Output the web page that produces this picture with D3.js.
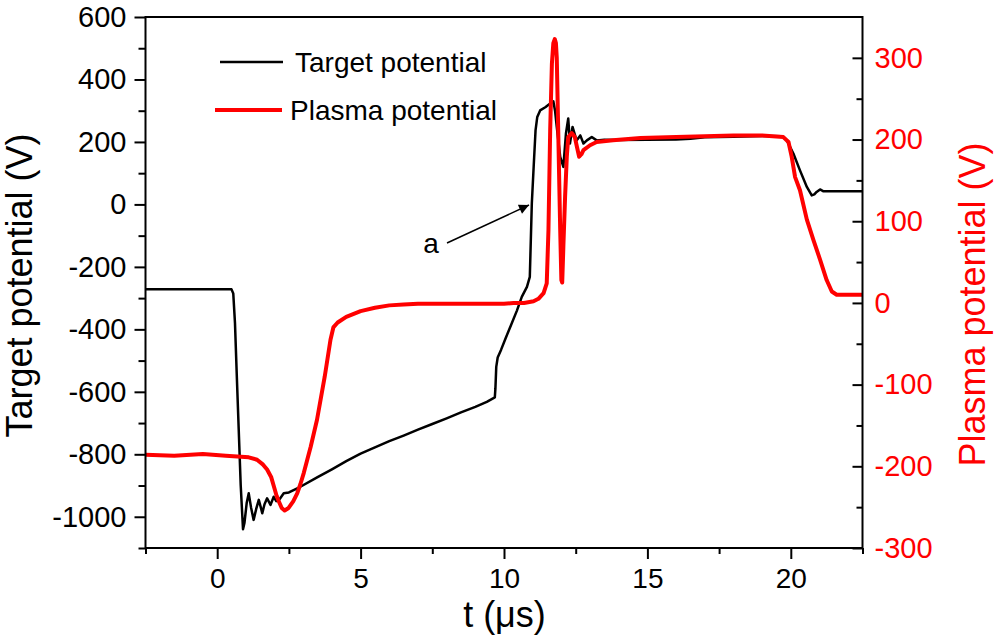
<!DOCTYPE html>
<html>
<head>
<meta charset="utf-8">
<script src="https://cdn.jsdelivr.net/npm/d3@7/dist/d3.min.js"></script>
<style>
  html, body { margin: 0; padding: 0; background: #fff; }
  svg { display: block; font-family: "Liberation Sans", Arial, sans-serif; }
</style>
</head>
<body>
<svg id="chart" width="997" height="639"></svg>
<script>
// ---- Data ----
const targetT = [-2.5, 0.5, 0.56, 0.62, 0.68, 0.75, 0.82, 0.9, 0.95, 1.03, 1.1, 1.18, 1.27, 1.36, 1.45, 1.52, 1.57, 1.65, 1.74, 1.86, 1.97, 2.06, 2.15, 2.32, 2.5, 2.9, 3.5, 4.0, 4.5, 5.0, 5.5, 6.0, 6.5, 7.0, 7.5, 8.0, 8.5, 9.0, 9.4, 9.68, 9.7, 9.73, 9.78, 9.9, 10.05, 10.25, 10.45, 10.62, 10.8, 10.9, 10.97, 11.04, 11.1, 11.16, 11.26, 11.44, 11.61, 11.72, 11.78, 11.84, 11.96, 12.07, 12.16, 12.24, 12.3, 12.39, 12.53, 12.66, 12.77, 12.89, 13.06, 13.23, 13.5, 14, 15, 16, 16.5, 17, 18, 19, 19.7, 19.86, 20.09, 20.32, 20.56, 20.73, 20.82, 20.9, 21.02, 21.14, 21.3, 22.5];
const targetV = [-272, -272, -285, -380, -540, -720, -900, -1040, -1020, -955, -925, -970, -1010, -975, -946, -970, -989, -960, -941, -962, -936, -950, -947, -925, -922, -904, -873, -848, -822, -798, -778, -758, -740, -721, -703, -685, -666, -648, -632, -618, -590, -520, -490, -465, -430, -385, -340, -296, -264, -232, 3, 131, 237, 280, 301, 311, 323, 330, 300, 248, 152, 120, 227, 275, 195, 248, 205, 221, 195, 205, 216, 205, 207, 206, 207, 208, 210, 215, 217, 219, 218, 205, 163, 109, 56, 29, 32, 40, 48, 42, 42, 42];

const plasmaT = [-2.5, -1.5, -0.5, 0.3, 0.7, 1.1, 1.39, 1.6, 1.74, 1.88, 1.98, 2.07, 2.15, 2.25, 2.35, 2.49, 2.65, 2.79, 2.9, 3.02, 3.14, 3.26, 3.48, 3.75, 3.95, 4.05, 4.2, 4.5, 5.0, 5.5, 6.0, 6.5, 7.0, 8.0, 9.0, 9.5, 10.0, 10.33, 10.7, 11.03, 11.2, 11.38, 11.49, 11.55, 11.61, 11.67, 11.72, 11.77, 11.81, 11.84, 11.89, 11.96, 12.0, 12.03, 12.07, 12.13, 12.19, 12.24, 12.36, 12.47, 12.55, 12.62, 12.7, 12.77, 13.0, 13.23, 13.8, 14.76, 16, 17, 18, 19, 19.74, 19.92, 20.03, 20.15, 20.32, 20.56, 20.79, 21.02, 21.25, 21.43, 21.6, 22.0, 22.5];
const plasmaV = [-186, -187, -185, -187, -188, -189, -192, -198, -204, -213, -225, -236, -243, -251, -254, -251, -243, -233, -222, -208, -192, -176, -143, -90, -45, -30, -24, -17, -10, -6, -3, -2, -1, -1, -1, -1, -1, 0, 0, 2, 5, 12, 24, 89, 211, 293, 318, 323, 318, 300, 212, 89, 28, 25, 69, 130, 179, 203, 208, 203, 190, 179, 182, 187, 193, 197, 199, 202, 203, 204, 205, 205, 203, 197, 179, 154, 138, 102, 77, 53, 28, 14, 10, 10, 10];

const xDomain = [-2.5, 22.5];
const yLeftDomain = [-1100, 600];
const yRightDomain = [-300, 350];
const xMajorTicks = [0, 5, 10, 15, 20];
const xMinorTicks = [-2.5, 2.5, 7.5, 12.5, 17.5, 22.5];
const yLeftMajorTicks = [-1000, -800, -600, -400, -200, 0, 200, 400, 600];
const yLeftMinorTicks = [-1100, -900, -700, -500, -300, -100, 100, 300, 500];
const yRightMajorTicks = [-300, -200, -100, 0, 100, 200, 300];
const yRightMinorTicks = [-250, -150, -50, 50, 150, 250];
const legendLabels = ["Target potential", "Plasma potential"];
const seriesColors = ["#000000", "#ff0000"];

// ---- Layout ----
const L = 145.5, R = 862.5, T = 17, B = 548;
const svg = d3.select("#chart");

const x = d3.scaleLinear().domain(xDomain).range([L, R]);
const yL = d3.scaleLinear().domain(yLeftDomain).range([B, T]);
const yR = d3.scaleLinear().domain(yRightDomain).range([B, T]);

// ---- Series ----
const targetData = targetT.map((t, i) => [t, targetV[i]]);
const plasmaData = plasmaT.map((t, i) => [t, plasmaV[i]]);

svg.append("path")
  .datum(targetData)
  .attr("fill", "none")
  .attr("stroke", seriesColors[0])
  .attr("stroke-width", 2.5)
  .attr("stroke-linejoin", "round")
  .attr("d", d3.line().x(d => x(d[0])).y(d => yL(d[1])));

svg.append("path")
  .datum(plasmaData)
  .attr("fill", "none")
  .attr("stroke", seriesColors[1])
  .attr("stroke-width", 4)
  .attr("stroke-linejoin", "round")
  .attr("d", d3.line().x(d => x(d[0])).y(d => yR(d[1])));

// ---- Axes ----
function styleAxis(g, color) {
  g.select(".domain").remove();
  g.selectAll(".tick line").attr("stroke", "#000").attr("stroke-width", 2);
  g.selectAll(".tick text").attr("fill", color).attr("font-family", "Liberation Sans, Arial, sans-serif");
}

// bottom
const gxMinor = svg.append("g").attr("transform", `translate(0,${B})`)
  .call(d3.axisBottom(x).tickValues(xMinorTicks).tickSize(6).tickFormat(""));
styleAxis(gxMinor, "#000");
const gx = svg.append("g").attr("transform", `translate(0,${B})`)
  .call(d3.axisBottom(x).tickValues(xMajorTicks).tickSize(11).tickPadding(9).tickFormat(d3.format("d")));
styleAxis(gx, "#000");
gx.selectAll(".tick text").attr("font-size", 28);

// left
const gyMinor = svg.append("g").attr("transform", `translate(${L},0)`)
  .call(d3.axisLeft(yL).tickValues(yLeftMinorTicks).tickSize(7).tickFormat(""));
styleAxis(gyMinor, "#000");
const gy = svg.append("g").attr("transform", `translate(${L},0)`)
  .call(d3.axisLeft(yL).tickValues(yLeftMajorTicks).tickSize(11).tickPadding(8).tickFormat(d => String(d)));
styleAxis(gy, "#000");
gy.selectAll(".tick text").attr("font-size", 29);

// right (ticks inward)
const gyrMinor = svg.append("g").attr("transform", `translate(${R},0)`)
  .call(d3.axisRight(yR).tickValues(yRightMinorTicks).tickSizeInner(-6).tickSizeOuter(0).tickFormat(""));
styleAxis(gyrMinor, "#ff0000");
const gyr = svg.append("g").attr("transform", `translate(${R},0)`)
  .call(d3.axisRight(yR).tickValues(yRightMajorTicks).tickSizeInner(-10).tickSizeOuter(0).tickPadding(12).tickFormat(d => String(d)));
styleAxis(gyr, "#ff0000");
gyr.selectAll(".tick text").attr("font-size", 29);

// frame
svg.append("rect")
  .attr("x", L).attr("y", T).attr("width", R - L).attr("height", B - T)
  .attr("fill", "none").attr("stroke", "#000").attr("stroke-width", 2);

// ---- Axis titles ----
svg.append("text")
  .attr("transform", `translate(32,${(T + B) / 2 + 3}) rotate(-90)`)
  .attr("text-anchor", "middle")
  .attr("font-size", 36)
  .attr("fill", "#000")
  .text("Target potential (V)");

svg.append("text")
  .attr("transform", `translate(985,${(T + B) / 2 + 22}) rotate(-90)`)
  .attr("text-anchor", "middle")
  .attr("font-size", 36)
  .attr("fill", "#ff0000")
  .text("Plasma potential (V)");

svg.append("text")
  .attr("x", (L + R) / 2 + 0.5)
  .attr("y", 627)
  .attr("text-anchor", "middle")
  .attr("font-size", 36)
  .attr("fill", "#000")
  .text("t (μs)");

// ---- Legend ----
const legend = svg.append("g");
const legendRows = [
  { lx1: 220, lx2: 283, ly: 62, tx: 295, ty: 72, w: 2.5 },
  { lx1: 215, lx2: 282, ly: 110, tx: 290, ty: 120, w: 4 }
];
legendLabels.forEach((lab, i) => {
  const r = legendRows[i];
  legend.append("line")
    .attr("x1", r.lx1).attr("x2", r.lx2).attr("y1", r.ly).attr("y2", r.ly)
    .attr("stroke", seriesColors[i]).attr("stroke-width", r.w);
  legend.append("text")
    .attr("x", r.tx).attr("y", r.ty)
    .attr("font-size", 28).attr("fill", "#000")
    .text(lab);
});

// ---- Annotation "a" with arrow ----
const defs = svg.append("defs");
defs.append("marker")
  .attr("id", "arrowhead")
  .attr("viewBox", "0 0 10 10")
  .attr("refX", 10).attr("refY", 5)
  .attr("markerWidth", 14).attr("markerHeight", 10)
  .attr("markerUnits", "userSpaceOnUse")
  .attr("orient", "auto")
  .append("path").attr("d", "M0,0 L10,5 L0,10 z").attr("fill", "#000");

svg.append("line")
  .attr("x1", 447).attr("y1", 243).attr("x2", 529).attr("y2", 205)
  .attr("stroke", "#000").attr("stroke-width", 1.5)
  .attr("marker-end", "url(#arrowhead)");

svg.append("text")
  .attr("x", 431).attr("y", 253)
  .attr("text-anchor", "middle")
  .attr("font-size", 28).attr("fill", "#000")
  .text("a");
</script>
</body>
</html>
